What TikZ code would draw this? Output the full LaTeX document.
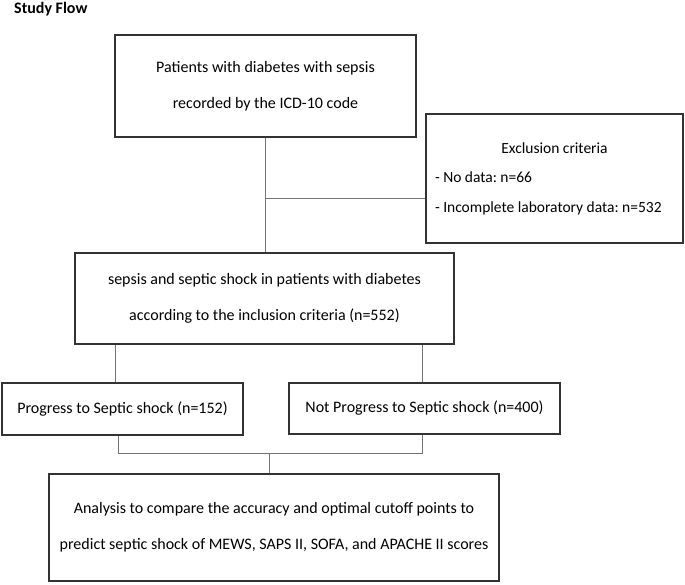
\documentclass[tikz,border=0pt]{standalone}
\usepackage{fontspec}
\setmainfont{Carlito}
\usetikzlibrary{calc}

\begin{document}
\begin{tikzpicture}[x=1pt, y=-1pt,
        main/.style = {draw=black!80, line width=1.1pt, inner sep=0pt, align=center, font=\fontsize{16}{36}\selectfont\frenchspacing},
        link/.style = {draw=black!55, line width=0.7pt}]
            \useasboundingbox (0,0) rectangle (685,585);

            \node[anchor=west, inner sep=0pt, font=\fontsize{16}{18}\selectfont\bfseries] (T) at (14,9) {Study Flow};

            \node[main, minimum width=301pt, minimum height=102pt] (P) at (265.5,86) {Patients with diabetes with sepsis\\recorded by the ICD-10 code};
            \node[main, minimum width=257pt, minimum height=129pt, align=left, font=\fontsize{15.5}{29.5}\selectfont\frenchspacing] (E) at (554.5,178.5)
                {\makebox[239pt]{Exclusion criteria}\\- No data: n=66\\- Incomplete laboratory data: n=532};
            \node[main, minimum width=379pt, minimum height=91pt] (I) at (264.5,298.5) {sepsis and septic shock in patients with diabetes\\according to the inclusion criteria (n=552)};
            \node[main, minimum width=241pt, minimum height=52pt] (S) at (122.5,409) {Progress to Septic shock (n=152)};
            \node[main, minimum width=271pt, minimum height=51pt] (N) at (424.5,408.5) {Not Progress to Septic shock (n=400)};
            \node[main, minimum width=450pt, minimum height=107pt] (A) at (274,527.5) {Analysis to compare the accuracy and optimal cutoff points to\\predict septic shock of MEWS, SAPS II, SOFA, and APACHE II scores};

            \path[link] (P.south) edge (P.south |- I.north);
            \coordinate (J) at ($(P.south)!0.526!(P.south |- I.north)$);
            \path[link] (J) edge (J -| E.west);

            \path[link] ([xshift=-7.5pt]S.north) edge ([xshift=-7.5pt]S.north |- I.south);
            \path[link] ([xshift=-2.5pt]N.north) edge ([xshift=-2.5pt]N.north |- I.south);

            % join of the two groups
            \coordinate (K) at ($(S.south)!0.46!(S.south |- A.north)$);
            \draw[link] ([xshift=-4.5pt]S.south) |- ([xshift=-2.5pt]N.south |- K) -- ([xshift=-2.5pt]N.south);
            \path[link] ([xshift=-5pt]A.north |- K) edge ([xshift=-5pt]A.north);
        \end{tikzpicture}
\end{document}
